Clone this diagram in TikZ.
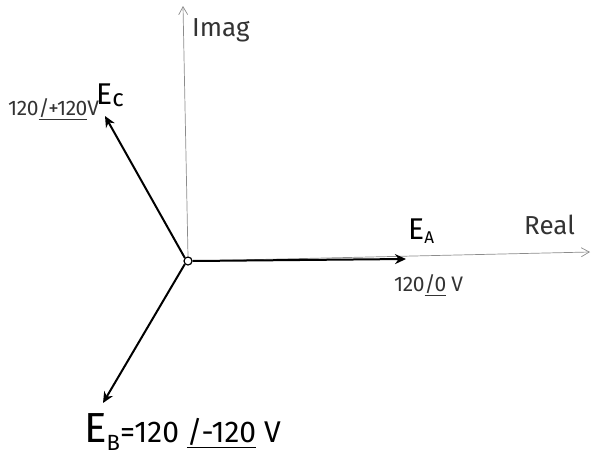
\documentclass[tikz,border=0pt]{standalone}
\usepackage{fontspec}
\setmainfont{Fira Sans}
\usetikzlibrary{arrows.meta}
\newcommand\phang[1]{\underline{/\kern-1pt#1}}
\tikzset{
  axis/.style={draw=black!45, line width=0.7pt, -{Straight Barb[length=8pt,width=9pt]}},
  phasor/.style={draw=black, line width=2pt, -{Stealth[length=11pt,width=10pt]}},
  big/.style={font=\fontsize{30}{32}\selectfont, inner sep=0pt},
  lab/.style={font=\fontsize{21}{23}\selectfont\addfontfeatures{LetterSpace=-2}, text=black!80, inner sep=0pt},
  axlab/.style={lab, font=\fontsize{26}{28}\selectfont},
}
\begin{document}
\begin{tikzpicture}[x=1pt,y=-1pt]
\useasboundingbox (0,0) rectangle (600,472);
\node[draw, circle, minimum size=8pt, inner sep=0pt, line width=1.2pt] (o) at (188,261) {};
\coordinate (imagtop) at (183,6);
\coordinate (realend) at (590,252);
\coordinate (ea) at (406,259);
\coordinate (ec) at (105,116);
\coordinate (eb) at (103,403);
\draw[axis] (o.north) -- (imagtop);
\draw[axis] (o.east) -- (realend);
\draw[phasor] (o.east) -- (ea);
\draw[phasor] (o.north west) -- (ec);
\draw[phasor] (o.south west) -- (eb);
\node[axlab, anchor=west] (imag) at (192,30) {Imag};
\node[axlab, anchor=west] (real) at (524,225) {Real};
\node[big, anchor=south west] (eclab) at (96,107) {E\raisebox{-2pt}{\fontsize{24}{24}\selectfont c}};
\node[lab, anchor=south west] (ecval) at (8,120) {120\phang{+120}V};
\node[big, anchor=south west] (ealab) at (408,244) {E\raisebox{-4pt}{\fontsize{17}{17}\selectfont A}};
\node[lab, anchor=north west] (eaval) at (394,274) {120\phang{0} V};
\node[big, anchor=south west, font=\fontsize{42}{44}\selectfont] (eblab) at (84,451) {E\raisebox{-8pt}{\fontsize{22}{22}\selectfont B}\fontsize{30}{32}\selectfont=120 \phang{-120} V};
\end{tikzpicture}
\end{document}
